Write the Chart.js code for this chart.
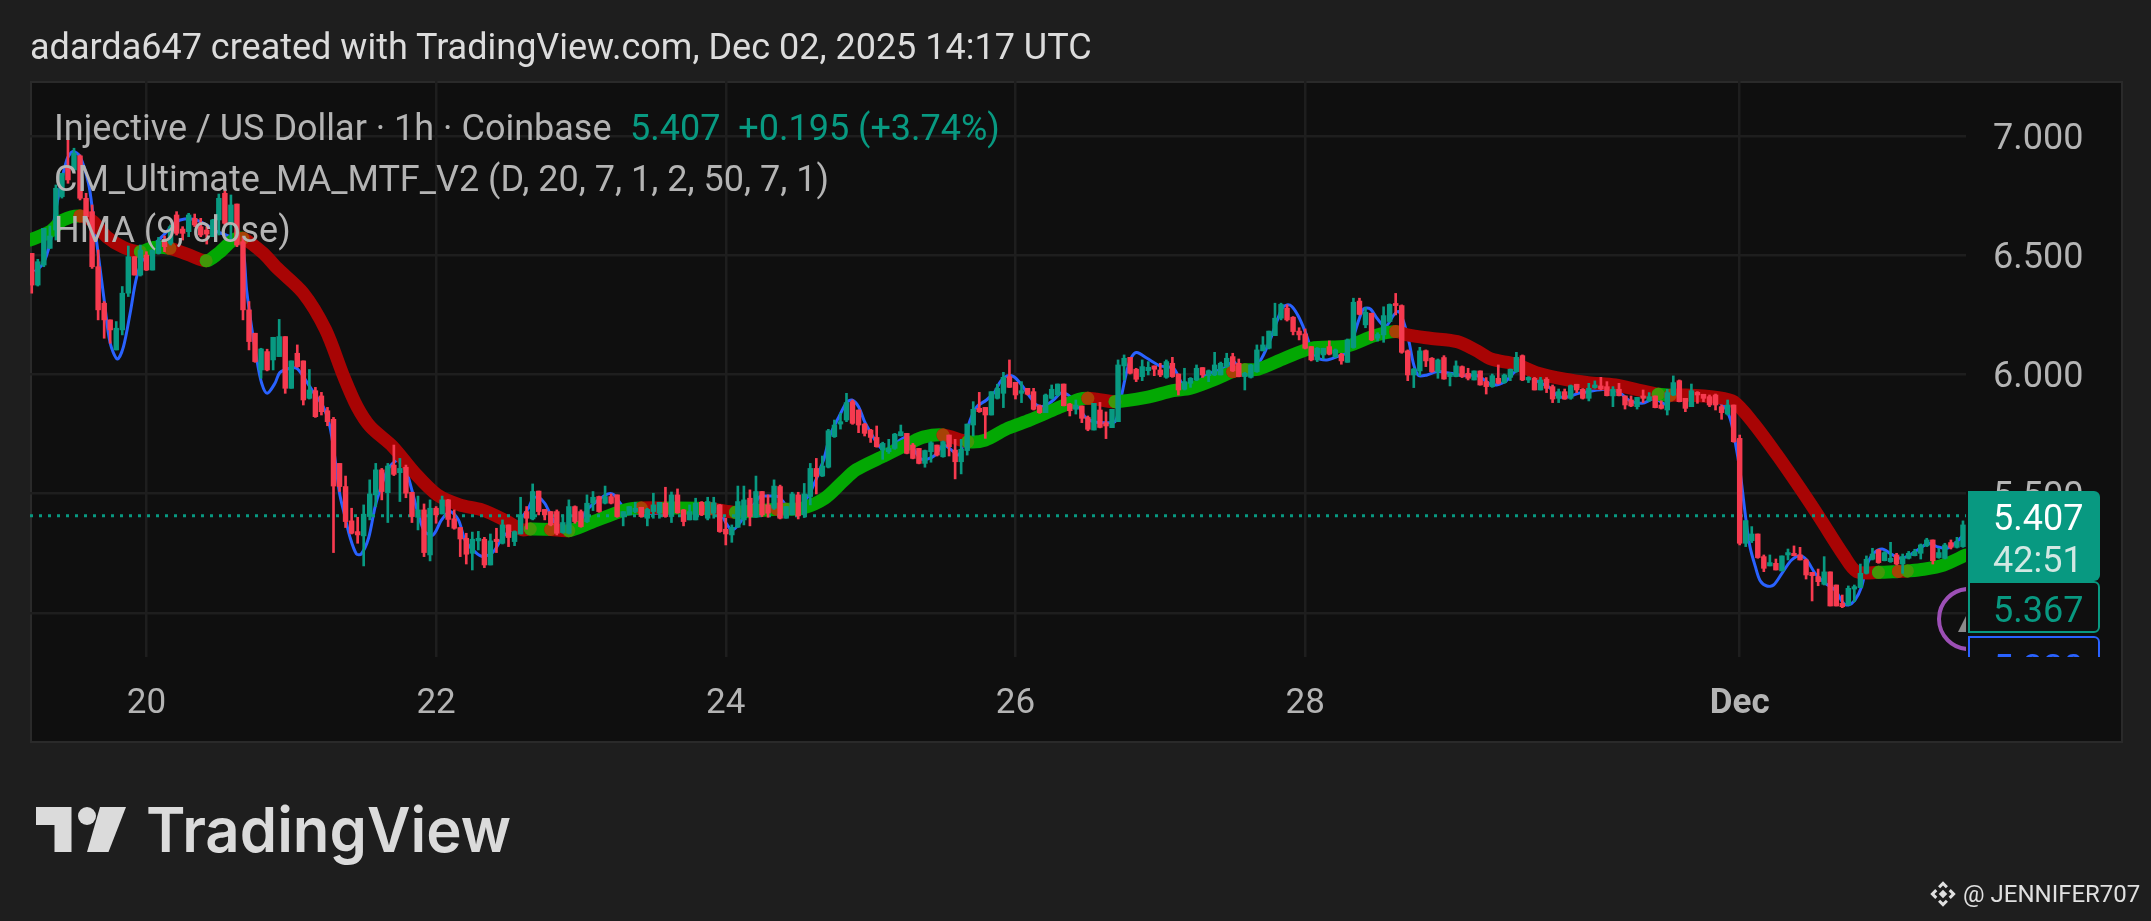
<!DOCTYPE html>
<html><head><meta charset="utf-8">
<script src="https://cdn.jsdelivr.net/npm/chart.js@4"></script>
<style>
html,body{margin:0;padding:0;background:#1e1e1e;width:2151px;height:921px;overflow:hidden;font-family:Roboto,sans-serif}
.t{position:absolute;white-space:pre;line-height:1}
#pane{position:absolute;left:30px;top:81px;width:2089px;height:658px;background:#0f0f0f;border:2px solid #2a2a2a}
#cv{position:absolute;left:0;top:0}
#right{position:absolute;left:1966px;top:81px;width:155px;height:576px;overflow:hidden}
.box{position:absolute;left:2px;width:132px;box-sizing:border-box;border-radius:0 6px 6px 0}
.box span{position:absolute;left:25px;font-size:36px;line-height:1;white-space:pre}
</style></head><body>
<div id="pane"></div>
<canvas id="cv" width="2151" height="921" style="width:2151px;height:921px"></canvas>
<div class="t" style="left:30px;top:29px;font-size:36px;color:#dcdcdc">adarda647 created with TradingView.com, Dec 02, 2025 14:17 UTC</div>
<div class="t" style="left:54px;top:110px;font-size:36px;color:#b4b4b4">Injective / US Dollar · 1h · Coinbase</div>
<div class="t" style="left:630px;top:110px;font-size:36px;color:#089981">5.407  +0.195 (+3.74%)</div>
<div class="t" style="left:54px;top:161px;font-size:36px;color:#b4b4b4">CM_Ultimate_MA_MTF_V2 (D, 20, 7, 1, 2, 50, 7, 1)</div>
<div class="t" style="left:54px;top:212px;font-size:36px;color:#b4b4b4">HMA (9, close)</div>
<svg style="position:absolute;left:1900px;top:570px" width="66" height="87" viewBox="1900 570 66 87">
  <circle cx="1969" cy="619" r="30" fill="none" stroke="#9c4fb5" stroke-width="4"/>
  <polygon points="1966,616 1966,632 1958,632" fill="#8a8a8a"/>
</svg>
<div id="right">
  <div class="box" style="top:410px;height:90px;background:#089981"><span style="top:9px;color:#fff">5.407</span><span style="top:51px;color:#d2e8e3">42:51</span></div>
  <div class="box" style="top:500px;height:52px;background:#0f0f0f;border:2px solid #089981"><span style="top:9px;left:23px;color:#089981">5.367</span></div>
  <div class="box" style="top:555px;height:50px;background:#0f0f0f;border:2px solid #2962ff"><span style="top:12px;left:23px;color:#2962ff">5.320</span></div>
</div>
<svg style="position:absolute;left:0;top:780px" width="560" height="100" viewBox="0 780 560 100">
  <g fill="#dbdbdb">
    <polygon points="36,807 71.5,807 71.5,852 54.5,852 54.5,825 36,825"/>
    <circle cx="87" cy="816" r="9"/>
    <polygon points="100,807 126,807 108.5,852 87,852"/>
    <text x="146" y="852" font-family="Inter,sans-serif" font-weight="600" font-size="62" textLength="365" lengthAdjust="spacingAndGlyphs">TradingView</text>
  </g>
</svg>
<svg style="position:absolute;left:1930px;top:881px" width="26" height="26" viewBox="0 0 26 26">
  <g fill="#e0e0e0" transform="rotate(45 13 13)"><rect x="10" y="10" width="6" height="6"/><path d="M4 4h7v3H7v4H4zM22 4v7h-3V7h-4V4zM4 22v-7h3v4h4v3zM22 22h-7v-3h4v-4h3z"/></g>
</svg>
<div class="t" style="left:1963px;top:882px;font-size:24px;color:#e0e0e0">@ JENNIFER707</div>
<script>
const firstHour=-19;
const candleOpen=[6.508,6.375,6.459,6.529,6.606,6.746,6.872,6.858,6.917,6.739,6.683,6.452,6.299,6.229,6.103,6.187,6.341,6.494,6.417,6.501,
6.438,6.508,6.564,6.550,6.669,6.610,6.599,6.655,6.620,6.606,6.578,6.648,6.760,6.634,6.715,6.557,6.271,6.173,6.019,6.096,6.061,
6.075,6.159,5.942,6.089,6.057,5.900,5.932,5.910,5.848,5.812,5.627,5.530,5.386,5.341,5.323,5.404,5.495,5.600,5.504,
5.620,5.588,5.611,5.506,5.401,5.432,5.243,5.439,5.415,5.474,5.395,5.358,5.313,5.250,5.302,5.309,5.201,5.309,5.292,5.369,
5.299,5.331,5.425,5.394,5.511,5.434,5.425,5.425,5.337,5.334,5.446,5.425,5.383,5.460,5.488,5.460,5.488,5.495,5.404,5.411,
5.425,5.443,5.397,5.425,5.418,5.460,5.404,5.495,5.432,5.390,5.390,5.464,5.397,5.418,5.453,5.351,5.327,5.359,5.390,5.481,
5.401,5.509,5.453,5.439,5.530,5.397,5.411,5.495,5.411,5.488,5.606,5.574,5.611,5.739,5.792,5.809,5.886,5.851,5.792,5.767,
5.736,5.683,5.676,5.690,5.743,5.753,5.704,5.690,5.627,5.676,5.704,5.655,5.746,5.683,5.634,5.681,5.788,5.858,5.862,5.830,
5.900,5.921,5.991,5.967,5.921,5.942,5.928,5.869,5.840,5.900,5.914,5.960,5.876,5.854,5.868,5.820,5.767,5.851,5.798,5.777,
5.802,6.036,6.072,6.022,5.991,6.016,6.036,6.019,5.988,6.047,6.002,5.938,5.963,5.977,6.029,5.995,5.998,5.998,6.033,6.075,
6.047,5.991,5.988,6.012,6.099,6.110,6.163,6.236,6.278,6.240,6.182,6.170,6.117,6.061,6.082,6.117,6.075,6.085,6.051,6.113,
6.308,6.208,6.257,6.152,6.166,6.222,6.298,6.289,6.099,5.998,6.015,6.100,6.068,6.012,6.071,5.991,5.991,6.033,6.005,5.977,
6.015,5.970,5.949,5.984,5.966,5.988,6.012,6.079,5.977,5.984,5.935,5.980,5.949,5.900,5.928,5.900,5.959,5.938,5.900,5.945,
5.952,5.949,5.910,5.938,5.910,5.893,5.865,5.910,5.890,5.910,5.872,5.851,5.914,5.974,5.900,5.865,5.925,5.917,5.907,5.914,
5.865,5.834,5.872,5.732,5.292,5.303,5.331,5.236,5.197,5.208,5.176,5.243,5.250,5.243,5.222,5.170,5.152,5.120,5.172,5.117,
5.040,5.033,5.100,5.106,5.166,5.225,5.264,5.219,5.215,5.243,5.205,5.229,5.240,5.250,5.281,5.306,5.232,5.229,5.295,5.275,5.278];
const candleHigh=[6.508,6.483,6.613,6.623,6.795,6.844,6.984,6.949,6.921,6.760,6.711,6.522,6.306,6.229,6.222,6.369,6.539,6.494,6.543,6.515,
6.522,6.575,6.581,6.627,6.683,6.620,6.676,6.673,6.655,6.620,6.651,6.757,6.771,6.753,6.715,6.578,6.306,6.173,6.110,6.106,6.156,
6.231,6.159,6.057,6.124,6.057,6.021,5.946,5.925,5.862,5.820,5.627,5.574,5.439,5.401,5.453,5.558,5.627,5.606,5.627,
5.704,5.648,5.620,5.506,5.490,5.457,5.474,5.446,5.490,5.476,5.432,5.358,5.334,5.339,5.342,5.317,5.331,5.355,5.390,5.369,
5.344,5.485,5.446,5.541,5.511,5.434,5.425,5.432,5.411,5.474,5.449,5.432,5.495,5.509,5.490,5.532,5.499,5.495,5.425,5.446,
5.464,5.443,5.439,5.502,5.464,5.527,5.507,5.520,5.434,5.453,5.481,5.467,5.485,5.485,5.455,5.397,5.369,5.532,5.532,5.516,
5.574,5.509,5.495,5.558,5.536,5.446,5.506,5.506,5.543,5.627,5.648,5.658,5.770,5.809,5.837,5.921,5.893,5.851,5.795,5.770,
5.784,5.716,5.728,5.753,5.788,5.753,5.711,5.690,5.683,5.718,5.704,5.721,5.746,5.728,5.728,5.792,5.886,5.925,5.862,5.928,
5.959,6.009,6.061,5.967,5.970,5.942,5.942,5.872,5.918,5.956,5.960,5.960,5.879,5.893,5.868,5.826,5.879,5.883,5.843,5.854,
6.061,6.082,6.072,6.026,6.061,6.054,6.036,6.047,6.061,6.072,6.002,6.026,5.987,6.040,6.029,6.019,6.093,6.052,6.089,6.089,
6.065,6.009,6.043,6.124,6.159,6.182,6.299,6.299,6.292,6.243,6.196,6.191,6.117,6.113,6.110,6.141,6.107,6.089,6.149,6.320,
6.320,6.280,6.257,6.175,6.284,6.296,6.340,6.292,6.103,6.026,6.114,6.103,6.071,6.065,6.079,6.008,6.057,6.036,6.026,6.015,
6.015,5.987,6.002,6.040,6.002,6.023,6.093,6.082,5.991,5.988,5.988,5.987,5.956,5.939,5.939,5.956,5.959,5.941,5.963,5.973,
5.988,5.970,5.949,5.963,5.910,5.910,5.904,5.935,5.924,5.910,5.890,5.938,5.994,5.977,5.900,5.960,5.928,5.917,5.914,5.918,
5.872,5.893,5.872,5.746,5.387,5.362,5.331,5.243,5.243,5.226,5.239,5.268,5.281,5.275,5.226,5.170,5.184,5.236,5.172,5.117,
5.075,5.113,5.117,5.205,5.239,5.271,5.267,5.257,5.296,5.250,5.247,5.258,5.267,5.289,5.313,5.306,5.271,5.292,5.306,5.317,5.386];
const candleLow=[6.341,6.371,6.452,6.529,6.564,6.740,6.802,6.851,6.732,6.641,6.445,6.229,6.152,6.131,6.103,6.166,6.327,6.417,6.413,6.436,
6.438,6.505,6.515,6.543,6.585,6.564,6.578,6.620,6.578,6.547,6.578,6.585,6.627,6.564,6.536,6.229,6.103,6.051,5.984,6.015,6.019,
6.075,5.921,5.942,6.030,5.872,5.897,5.820,5.830,5.785,5.253,5.509,5.358,5.331,5.292,5.197,5.390,5.446,5.474,5.379,
5.576,5.467,5.483,5.379,5.348,5.236,5.218,5.376,5.415,5.362,5.351,5.236,5.205,5.180,5.264,5.190,5.201,5.253,5.289,5.278,
5.282,5.331,5.351,5.390,5.411,5.390,5.365,5.327,5.334,5.331,5.376,5.359,5.379,5.429,5.422,5.457,5.457,5.401,5.365,5.411,
5.420,5.401,5.365,5.397,5.397,5.401,5.379,5.418,5.365,5.390,5.390,5.408,5.390,5.397,5.338,5.285,5.296,5.359,5.369,5.365,
5.401,5.404,5.401,5.434,5.394,5.397,5.411,5.394,5.400,5.453,5.499,5.572,5.608,5.736,5.771,5.802,5.791,5.756,5.742,5.715,
5.695,5.644,5.669,5.686,5.742,5.667,5.646,5.625,5.611,5.632,5.658,5.653,5.658,5.562,5.583,5.662,5.742,5.841,5.732,5.830,
5.897,5.861,5.945,5.897,5.882,5.914,5.851,5.837,5.840,5.897,5.910,5.868,5.826,5.834,5.798,5.764,5.767,5.776,5.731,5.777,
5.802,5.977,6.002,5.970,5.974,5.998,5.995,5.991,5.984,5.988,5.914,5.935,5.946,5.974,5.988,5.970,5.995,5.998,6.030,6.012,
5.990,5.935,5.985,6.009,6.099,6.107,6.163,6.229,6.224,6.166,6.145,6.107,6.057,6.054,6.065,6.082,6.071,6.043,6.051,6.110,
6.250,6.196,6.142,6.140,6.135,6.219,6.250,6.089,5.974,5.945,5.995,6.033,6.009,5.984,5.980,5.952,5.990,5.987,5.977,5.977,
5.955,5.918,5.946,5.960,5.963,5.974,6.009,5.974,5.966,5.935,5.935,5.924,5.882,5.882,5.896,5.896,5.924,5.897,5.889,5.942,
5.935,5.910,5.865,5.910,5.855,5.865,5.855,5.882,5.887,5.860,5.855,5.830,5.911,5.885,5.844,5.865,5.879,5.886,5.865,5.851,
5.812,5.830,5.716,5.285,5.278,5.295,5.229,5.173,5.197,5.180,5.176,5.222,5.239,5.222,5.142,5.050,5.114,5.117,5.029,5.029,
5.022,5.033,5.047,5.106,5.163,5.222,5.208,5.218,5.212,5.201,5.166,5.226,5.239,5.226,5.278,5.205,5.229,5.226,5.268,5.272,5.275];
const candleClose=[6.375,6.473,6.613,6.581,6.781,6.844,6.816,6.928,6.739,6.662,6.452,6.271,6.229,6.187,6.194,6.341,6.494,6.417,6.522,6.438,
6.522,6.561,6.536,6.620,6.592,6.592,6.669,6.627,6.585,6.589,6.648,6.739,6.634,6.711,6.543,6.271,6.138,6.054,6.107,6.019,6.156,
6.159,5.942,6.057,6.033,5.893,5.935,5.823,5.844,5.802,5.532,5.530,5.383,5.334,5.327,5.414,5.499,5.600,5.509,5.616,
5.581,5.606,5.502,5.404,5.432,5.253,5.439,5.411,5.474,5.392,5.355,5.310,5.246,5.309,5.313,5.201,5.302,5.299,5.369,5.316,
5.341,5.411,5.397,5.509,5.425,5.411,5.369,5.334,5.379,5.446,5.383,5.362,5.460,5.485,5.425,5.488,5.460,5.404,5.425,5.446,
5.439,5.404,5.434,5.453,5.464,5.404,5.495,5.420,5.383,5.425,5.460,5.411,5.467,5.462,5.341,5.331,5.359,5.467,5.474,5.404,
5.509,5.411,5.418,5.532,5.397,5.446,5.499,5.407,5.499,5.606,5.572,5.616,5.764,5.788,5.802,5.882,5.795,5.788,5.753,5.736,
5.697,5.711,5.690,5.750,5.760,5.669,5.648,5.627,5.681,5.714,5.662,5.718,5.697,5.634,5.686,5.792,5.854,5.844,5.830,5.928,
5.942,5.988,5.946,5.914,5.932,5.917,5.854,5.840,5.914,5.938,5.960,5.869,5.848,5.872,5.816,5.770,5.879,5.778,5.784,5.854,
6.040,6.068,6.005,5.980,6.033,6.030,6.022,5.998,6.054,5.991,5.935,5.970,5.984,6.026,5.998,6.016,6.040,6.047,6.068,6.015,
5.991,6.005,6.040,6.103,6.124,6.182,6.236,6.294,6.229,6.180,6.166,6.110,6.061,6.110,6.110,6.085,6.103,6.057,6.145,6.303,
6.252,6.261,6.145,6.168,6.247,6.294,6.289,6.093,5.998,6.023,6.099,6.057,6.012,6.061,5.981,6.005,6.036,5.991,5.984,6.015,
5.956,5.949,5.995,5.963,5.998,6.022,6.072,5.977,5.988,5.935,5.977,5.942,5.897,5.928,5.897,5.953,5.935,5.900,5.942,5.956,
5.939,5.911,5.938,5.911,5.872,5.868,5.904,5.900,5.907,5.861,5.858,5.924,5.966,5.886,5.858,5.932,5.914,5.900,5.872,5.872,
5.840,5.872,5.718,5.292,5.387,5.331,5.232,5.187,5.211,5.180,5.239,5.253,5.240,5.222,5.159,5.156,5.131,5.172,5.029,5.029,
5.026,5.103,5.110,5.166,5.225,5.247,5.211,5.253,5.229,5.205,5.236,5.250,5.257,5.285,5.306,5.219,5.253,5.285,5.275,5.299,5.369];
const maHours=[-19.3,-16,-13.8,-11,-8.8,-6.6,-3.8,-1,1.2,3.9,6.7,9.9,11.9,14.4,16,19.4,21.5,26,29.7,32.7,34.9,37.1,40.8,44.5,48.2,51.9,55.6,59.3,62.3,63.6,67,70,73.4,79.3,82,86,93.4,94.7,97.6,102.8,104.5,106,108.7,112.4,115.4,117.6,122,126.5,128.7,132,136.1,139,142.7,146.4,150.9,154.6,156,157.5,160.5,165.7,170.1,173,177.5,180,182,184.2,188.6,193,199,203.4,207,208.9,212.7,217.2,220.2,222.9,226.8,230.6,235,238.9,243.4,247.2,250.5,252.5,255,260.2,263,266.3,270.2,274,277.3,281.2,283.4,287,290,290.3,291.8,294.5,297.8,301.5];
const maValues=[6.564,6.599,6.648,6.665,6.641,6.578,6.533,6.515,6.533,6.529,6.505,6.477,6.508,6.564,6.571,6.508,6.45,6.341,6.187,5.991,5.865,5.781,5.698,5.586,5.495,5.453,5.432,5.390,5.348,5.352,5.35,5.345,5.376,5.432,5.44,5.44,5.438,5.432,5.422,5.432,5.435,5.435,5.439,5.481,5.551,5.600,5.656,5.712,5.737,5.746,5.718,5.725,5.774,5.809,5.858,5.896,5.90,5.896,5.886,5.904,5.932,5.942,5.984,6.012,6.02,6.022,6.068,6.110,6.120,6.162,6.180,6.166,6.152,6.138,6.103,6.064,6.044,6.005,5.980,5.966,5.956,5.935,5.917,5.913,5.914,5.904,5.886,5.795,5.662,5.523,5.397,5.243,5.173,5.170,5.173,5.174,5.176,5.183,5.201,5.243];
const maTrend=[1,1,1,0,0,0,0,1,1,0,0,1,1,1,0,0,0,0,0,0,0,0,0,0,0,0,0,0,0,1,0,1,1,1,0,1,0,0,1,1,0,1,1,1,1,1,1,1,1,0,1,1,1,1,1,1,0,0,1,1,1,1,1,0,1,1,1,1,1,1,0,0,0,0,0,0,0,0,0,0,0,0,1,0,0,0,0,0,0,0,0,0,0,1,1,0,1,1,1,1];
const hmaHours=[-18.5,-17.1,-16,-14.6,-13.2,-12.2,-11,-9.6,-8.8,-8,-7,-6,-4.8,-3.8,-2.7,-1.6,-0.2,3.4,4.5,5.6,7.8,10,11.7,13.9,15.8,16.6,17.5,18.3,19.1,20,21.3,22.1,23.8,24.9,26,27.6,29.3,30.4,31.2,32,32.9,33.7,34.8,35.6,36.8,37.9,39,40.1,41.7,42.8,43.9,45,46.1,47.5,48.9,50.3,51.7,52.8,54.4,55.8,57.5,59.1,60.8,61.9,63.3,64.1,65,66,67.4,68.5,69.9,71.6,73,74.9,76.5,77.5,78.5,79.6,82.4,86.2,89,92.3,94.8,95.9,97,98.1,99.5,100.6,101.7,103,104.7,105.8,106.9,108.8,110.2,112.2,113.3,114.9,116,116.9,118,119,120.4,121.5,122.7,123.8,126,127.1,128.2,129.3,130.7,132,133.1,134.5,135.4,136.5,137.6,139.2,140.6,141.5,142.6,143.7,144.8,146.2,147.5,148.9,150.3,151.7,153.1,154.2,155.5,157,158.9,160.5,161.3,162.5,163.3,164.1,165.8,168,170.2,171.8,173.5,175.7,178.5,180.2,181.3,183.5,184.8,186.2,187.3,188.2,189,189.8,190.9,192,192.9,194,195.6,197.3,198.7,199.8,200.9,201.7,202.8,203.9,205.3,206.7,207.5,208.3,209.2,210,210.8,212.2,213.9,216,218.3,220.2,221.3,223,225.1,226.8,228.4,229.5,230.6,232.3,234,235.6,237.3,238.9,241.7,243.9,245.6,247.8,250,251.6,253.3,255.5,258.3,260.2,261.3,262.4,263.2,264.1,264.9,265.7,266.6,267.4,268.5,269.6,271,272.6,274,275.1,276.5,278.2,279.8,281.2,282,283.1,284.2,285.1,286.2,287.6,288.9,290.6,292.2,293.9,295.3,296.7,298.3,299.7,301.1];
const hmaValues=[6.431,6.466,6.550,6.746,6.900,6.935,6.914,6.802,6.662,6.508,6.312,6.131,6.065,6.117,6.257,6.410,6.50,6.60,6.63,6.648,6.651,6.627,6.599,6.578,6.550,6.354,6.187,6.061,5.963,5.921,5.963,6.008,6.026,6.026,5.991,5.928,5.865,5.781,5.655,5.502,5.404,5.320,5.247,5.247,5.313,5.446,5.537,5.606,5.641,5.613,5.523,5.418,5.341,5.327,5.390,5.425,5.390,5.306,5.257,5.236,5.257,5.320,5.355,5.390,5.439,5.481,5.485,5.460,5.390,5.348,5.334,5.369,5.432,5.474,5.499,5.495,5.460,5.425,5.418,5.418,5.432,5.446,5.439,5.383,5.348,5.369,5.425,5.453,5.488,5.490,5.488,5.457,5.425,5.460,5.516,5.641,5.746,5.830,5.882,5.893,5.865,5.802,5.739,5.697,5.676,5.704,5.739,5.690,5.648,5.644,5.662,5.704,5.690,5.662,5.711,5.809,5.865,5.893,5.928,5.970,5.994,5.991,5.963,5.914,5.872,5.868,5.893,5.924,5.907,5.879,5.823,5.802,5.798,5.802,5.879,6.019,6.075,6.092,6.068,6.036,6.026,5.956,5.956,5.998,6.026,6.054,6.009,6.026,6.068,6.145,6.222,6.278,6.292,6.285,6.243,6.180,6.117,6.071,6.061,6.075,6.089,6.145,6.229,6.275,6.275,6.236,6.201,6.250,6.264,6.222,6.138,6.040,5.995,5.998,6.012,6.005,5.995,5.998,5.984,5.956,5.970,6.012,6.033,6.012,5.970,5.949,5.907,5.907,5.921,5.928,5.938,5.928,5.893,5.879,5.900,5.876,5.907,5.921,5.907,5.886,5.872,5.816,5.725,5.586,5.418,5.278,5.194,5.135,5.113,5.117,5.166,5.222,5.240,5.222,5.166,5.124,5.096,5.040,5.033,5.054,5.110,5.201,5.250,5.268,5.250,5.229,5.243,5.271,5.292,5.278,5.271,5.292,5.327];
const lastPrice=5.407;
const priceTicks=[5,5.5,6,6.5,7];
const priceTickLabels=['5.000','5.500','6.000','6.500','7.000'];
const timeTicks=[0,48,96,144,192,264];
const timeTickLabels=['20','22','24','26','28','Dec'];
const hours=candleOpen.map((_,i)=>firstHour+i);
const UP='#089981',DOWN='#f63a4f',MAUP='#03a803',MADOWN='#a80404';
const barColors=hours.map((_,i)=>candleClose[i]>=candleOpen[i]?UP:DOWN);
const trendChange=maTrend.map((v,i)=>i>0&&v!==maTrend[i-1]);
new Chart(document.getElementById('cv').getContext('2d'),{
 data:{datasets:[
  {type:'bar',order:1,data:hours.map((h,i)=>({x:h,y:[candleOpen[i],candleClose[i]]})),backgroundColor:barColors,barThickness:4.8,grouped:false},
  {type:'bar',order:2,data:hours.map((h,i)=>({x:h,y:[candleLow[i],candleHigh[i]]})),backgroundColor:barColors,barThickness:2,grouped:false},
  {type:'line',order:3,data:[{x:-19.29,y:lastPrice},{x:301.5,y:lastPrice}],borderColor:UP,borderWidth:3,borderDash:[3,6],pointRadius:0},
  {type:'line',order:4,data:maHours.map((h,i)=>({x:h,y:maValues[i]})),borderWidth:13,borderCapStyle:'round',borderJoinStyle:'round',tension:0.3,
    borderColor:MAUP,segment:{borderColor:c=>maTrend[c.p0DataIndex]?MAUP:MADOWN},
    pointRadius:c=>trendChange[c.dataIndex]?6.5:0,pointBorderWidth:0,
    pointBackgroundColor:c=>maTrend[c.dataIndex]?'rgba(70,150,10,.95)':'rgba(165,70,5,.95)'},
  {type:'line',order:5,data:hmaHours.map((h,i)=>({x:h,y:hmaValues[i]})),borderColor:'#2962ff',borderWidth:3,tension:0.3,pointRadius:0}
 ]},
 options:{responsive:false,animation:false,events:[],devicePixelRatio:1,
  layout:{padding:{left:30,top:81,right:30,bottom:180}},
  plugins:{legend:{display:false},tooltip:{enabled:false}},
  scales:{
   x:{type:'linear',offset:false,min:-19.29,max:301.5,
      afterFit(s){s.height=84},
      afterBuildTicks(s){s.ticks=timeTicks.map(v=>({value:v}))},
      grid:{color:'#1e1e1e',lineWidth:2.5,drawTicks:false,offset:false},border:{display:false},
      ticks:{padding:26,maxRotation:0,autoSkip:false,color:'#b4b4b4',
        font:c=>({family:'Roboto',size:35,weight:timeTickLabels[c.index]==='Dec'?'bold':'normal'}),
        callback:(v)=>timeTickLabels[timeTicks.indexOf(v)]}},
   y:{type:'linear',position:'right',min:4.815,max:7.231,
      afterFit(s){s.width=155},
      afterBuildTicks(s){s.ticks=priceTicks.map(v=>({value:v}))},
      grid:{color:'#1e1e1e',lineWidth:2.5,drawTicks:false},border:{display:false},
      ticks:{padding:27,labelOffset:4,color:'#b4b4b4',autoSkip:false,font:{family:'Roboto',size:36},
        callback:(v)=>priceTickLabels[priceTicks.indexOf(v)]}}
  }}
});
</script>
</body></html>
